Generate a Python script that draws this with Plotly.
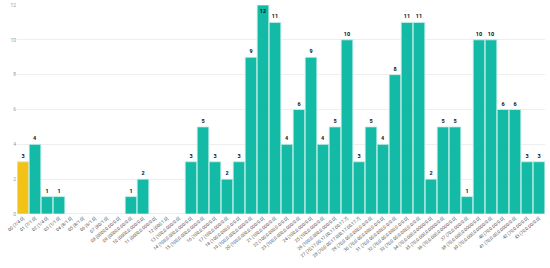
import plotly.graph_objects as go

categories = [
    "00 (7/4.0]", "01 (7/1.0]", "02 (1/4.0]", "03 (1/1.0]", "04 (8/1.0]",
    "05 (8/1.0]", "06 (6/1.0]", "07 (80/1.0]", "08 (0000,0.00/0.0]", "09 (0000,0.00/0.0]",
    "10 (0000,0.000/0.0]", "11 (0000,0.000/0.0]", "12 (000,1.0]", "13 (100,0.000/0.0]",
    "14 (100,0.000,0.000/0.0]", "15 (100,0.000,0.000/0.0]", "16 (100,0.000/0.0]",
    "17 (100,0.000/0.0]", "18 (100,0.000,0.0/0.0]", "19 (100,0.000,0.000/0.0]",
    "20 (100,0.000,0.000/0.0]", "21 (100,0.000/0.0]", "22 (100,0.000,0.0/0.0]",
    "23 (100,0.000,0.000/0.0]", "24 (100,0.000/0.0]", "25 (100,0.000/0.0]",
    "26 (100,0.000,0.000/0.0]", "27 (70,17.00,17.00,17.00,17.7]",
    "28 (70,0.00,17.000,17.00,17.7]", "29 (70,0.00,0.000,0.0/0.0]",
    "30 (70,0.00,0.000,0.0/0.0]", "31 (70,0.00,0.000,0.0/0.0]",
    "32 (70,0.00,0.000,0.0/0.0]", "33 (70,0.00,0.000,0.0/0.0]",
    "34 (70,0.000,0.0000/0.0]", "35 (70,0.000,0.0000/0.0]", "36 (70,0.000,0.0000/0.0]",
    "37 (70,0.000/0.0]", "38 (70,0.000,0.0000/0.0]", "39 (70,0.000,0.0000/0.0]",
    "40 (70,0.00/0.0]", "41 (70,0.00,0.0000/0.0]", "42 (70,0.00/0.0]", "43 (70,0.00/0.0]",
]
values = [3, 4, 1, 1, 0, 0, 0, 0, 0, 1, 2, 0, 0, 0, 3, 5, 3, 2, 3, 9, 12, 11, 4, 6, 9, 4,
          5, 10, 3, 5, 4, 8, 11, 11, 2, 5, 5, 1, 10, 10, 6, 6, 3, 3]
y_ticks = [0, 2, 4, 6, 8, 10, 12]

teal = "#13bba6"
yellow = "#f2c316"
colors = [yellow] + [teal] * (len(values) - 1)
texts = [str(v) if v > 0 else "" for v in values]
positions = ["inside" if v >= 12 else "outside" for v in values]

fig = go.Figure(go.Bar(
    x=categories, y=values,
    marker=dict(color=colors, line=dict(color="#c9f0e8", width=0.8)),
    text=texts, textposition=positions, insidetextanchor="end",
    textfont=dict(size=5.5, color="#111111", family="Roboto", weight="bold"),
    textangle=0, cliponaxis=False,
))
fig.update_layout(
    width=550, height=268,
    margin=dict(l=17, r=5, t=5, b=54),
    plot_bgcolor="white", paper_bgcolor="white",
    bargap=0.03, showlegend=False,
    font=dict(family="Roboto", size=5, color="#888888"),
    uniformtext=dict(minsize=5, mode="show"),
)
fig.update_xaxes(tickangle=-40, tickfont=dict(size=4.5, color="#555555"),
                 showgrid=False, showline=False, ticks="", automargin=False)
fig.update_yaxes(range=[0, 12], tickvals=y_ticks, tickfont=dict(size=5, color="#999999"),
                 gridcolor="#eeeeee", gridwidth=1, zeroline=False, showline=False,
                 automargin=False)
fig.write_html("out.html", config={"displayModeBar": False},
               post_script="document.body.style.margin='0';")
